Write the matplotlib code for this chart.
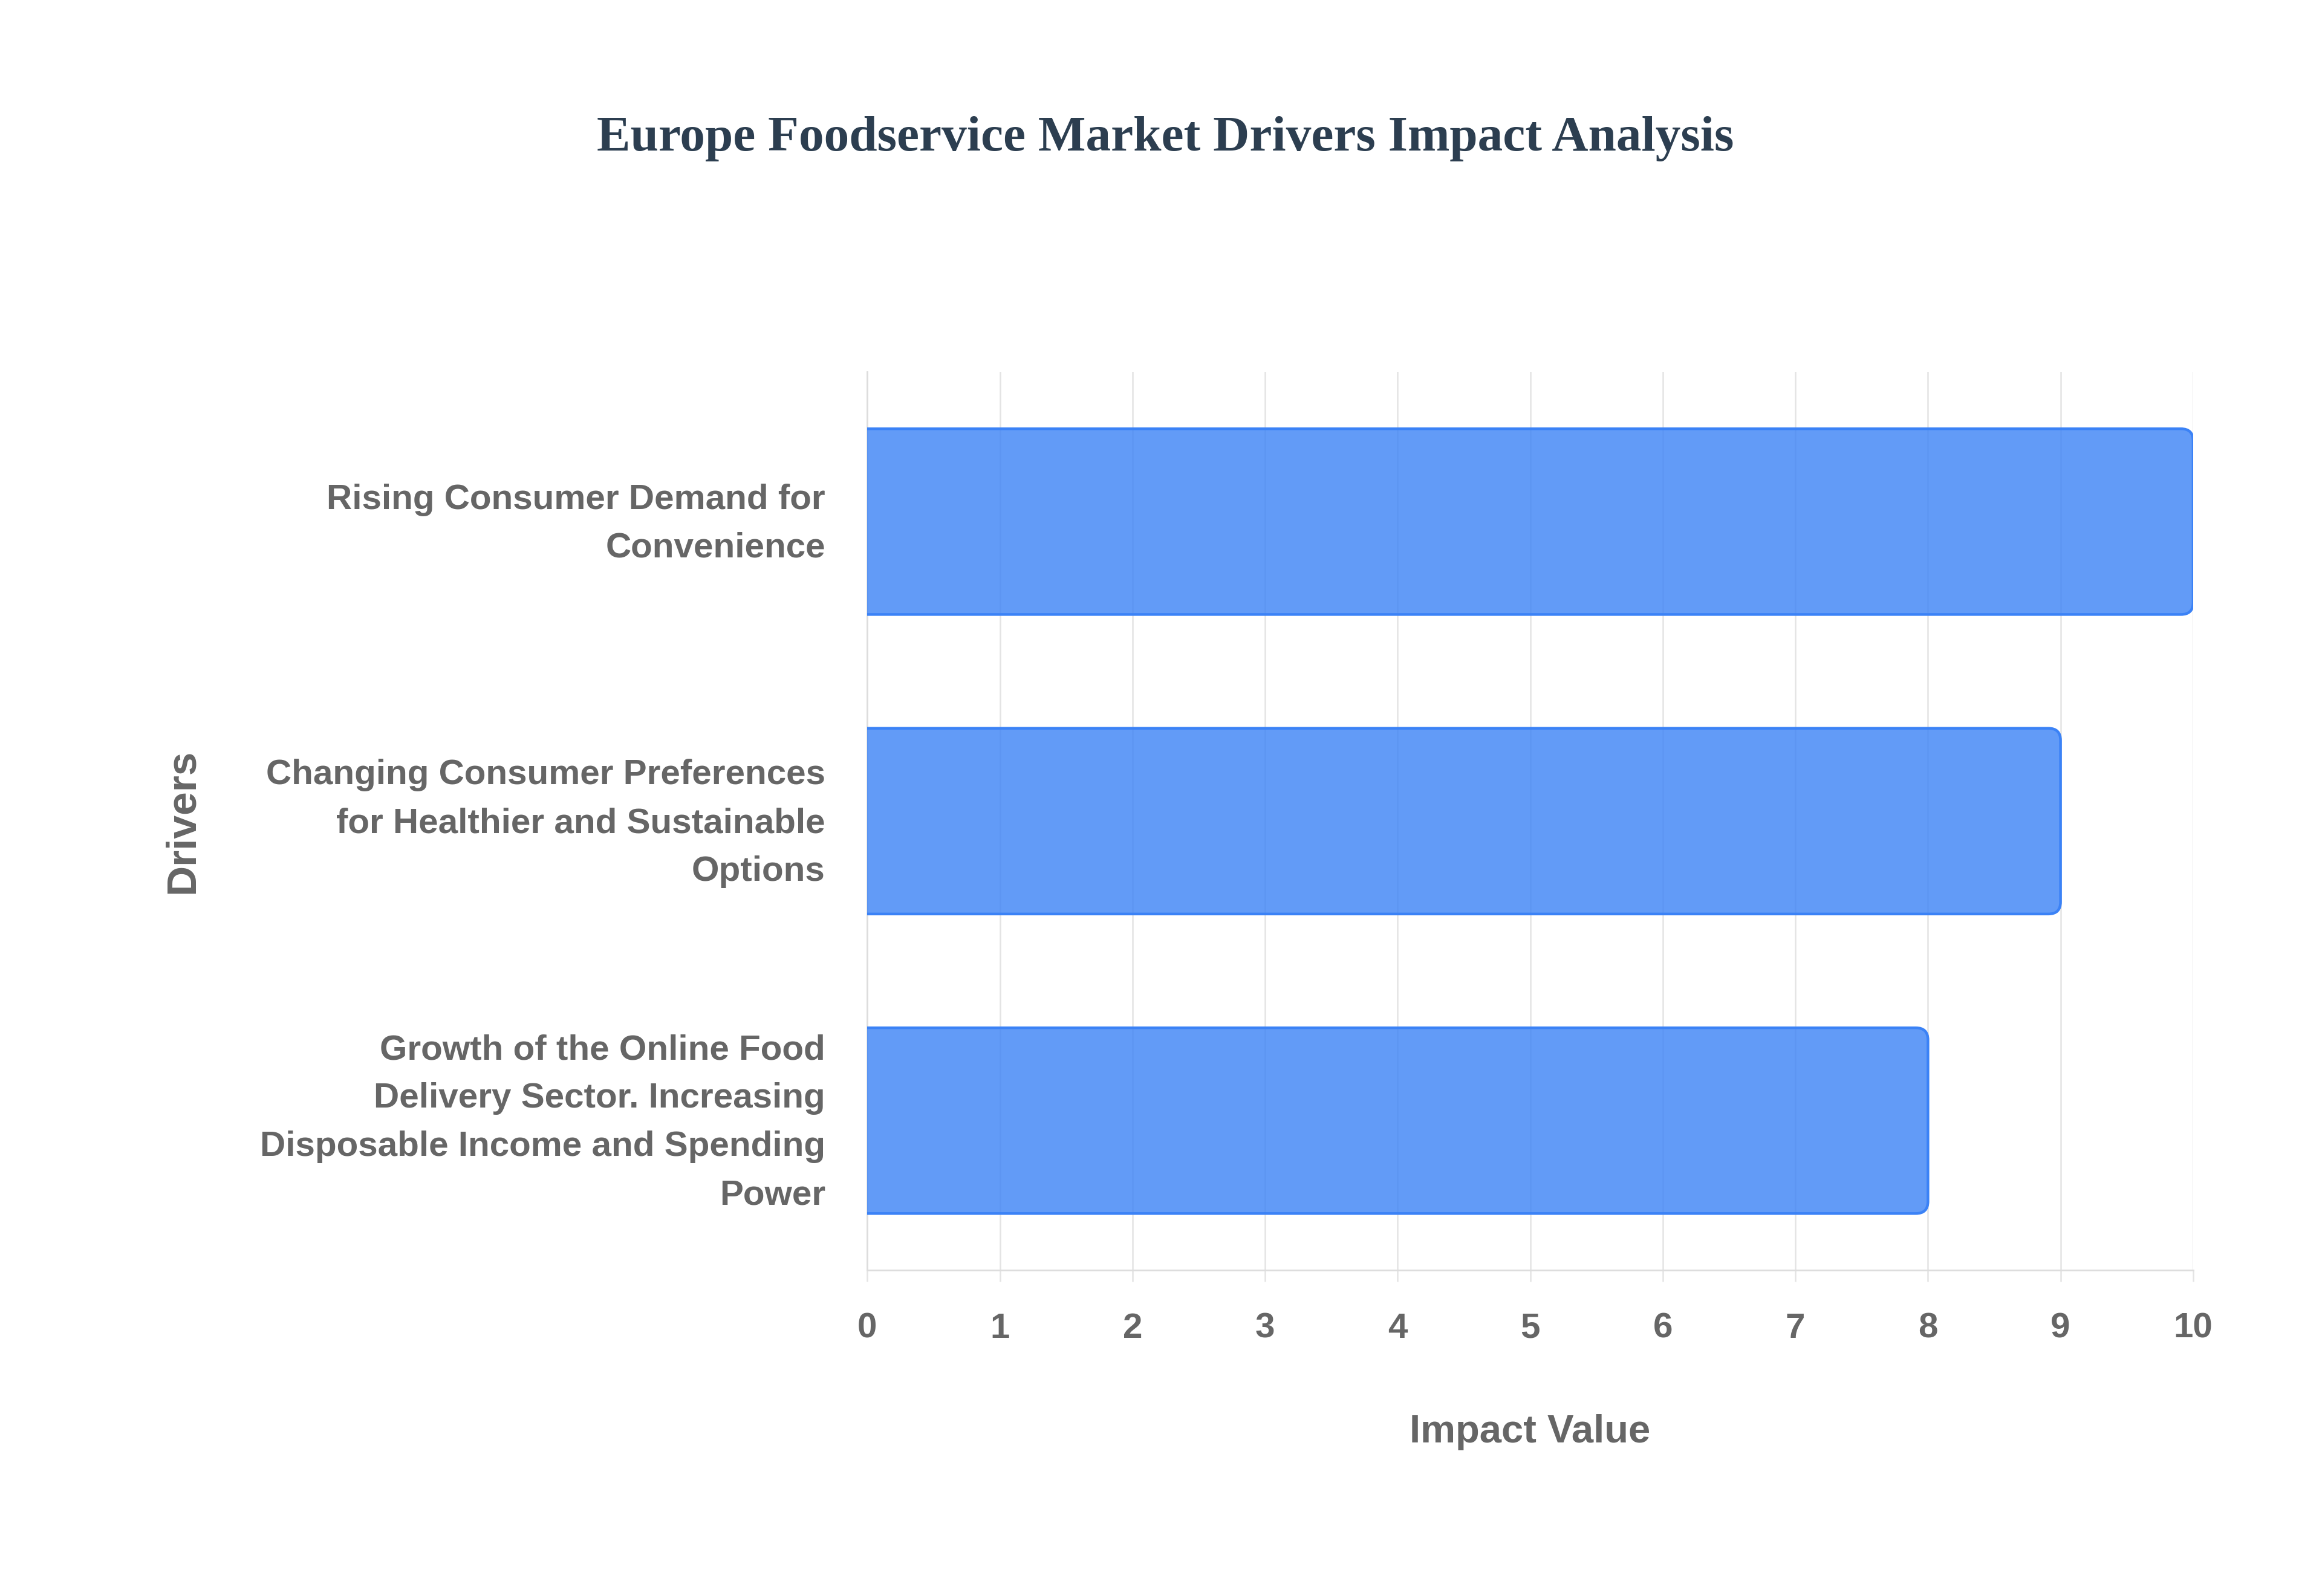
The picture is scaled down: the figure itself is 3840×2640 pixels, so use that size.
import matplotlib as mpl
mpl.use('Agg')
import matplotlib.pyplot as plt
import matplotlib.transforms as mtransforms
from matplotlib.patches import FancyBboxPatch

drivers = [
    "Rising Consumer Demand for\nConvenience",
    "Changing Consumer Preferences\nfor Healthier and Sustainable\nOptions",
    "Growth of the Online Food\nDelivery Sector. Increasing\nDisposable Income and Spending\nPower",
]
impact = [10, 9, 8]
ticks = list(range(0, 11))

fill_col = (59/255, 130/255, 246/255, 0.8)
edge_col = '#3b82f6'
text_col = '#666666'
grid_col = '#e4e4e4'

plt.rcParams['font.family'] = ['Liberation Sans', 'DejaVu Sans']

fig = plt.figure(figsize=(19.2, 13.2), dpi=200)
ax = fig.add_axes([0.3735, 0.204, 0.571, 0.563])

pos = list(range(len(drivers)))
bars = ax.barh(pos, impact, height=0.62, color='none', edgecolor='none')
ax.set_xlim(0, 10)
ax.set_ylim(len(drivers) - 0.5, -0.5)

# rounded right corners: radius in pixels -> data units
fig.canvas.draw()
px_x = ax.transData.transform((1, 0))[0] - ax.transData.transform((0, 0))[0]
px_y = abs(ax.transData.transform((0, 1))[1] - ax.transData.transform((0, 0))[1])
r_px = 20
r = r_px / px_x
aspect = px_x / px_y
for b in bars:
    x0, y0 = b.get_x(), b.get_y()
    w, h = b.get_width(), b.get_height()
    p = FancyBboxPatch((x0 - 2 * r, y0), w + 2 * r, h,
                       boxstyle=f"round,pad=0,rounding_size={r}",
                       mutation_aspect=aspect,
                       facecolor=fill_col, edgecolor=edge_col, linewidth=1.6,
                       zorder=3, clip_on=True)
    ax.add_patch(p)

ax.set_xticks(ticks)
ax.set_yticks(pos)
ax.set_yticklabels(drivers)
ax.grid(axis='x', color=grid_col, linewidth=0.9, zorder=0)
ax.set_axisbelow(True)

for s in ['top', 'right']:
    ax.spines[s].set_visible(False)
for s in ['left', 'bottom']:
    ax.spines[s].set_color('#dddddd')
    ax.spines[s].set_linewidth(1.0)

ax.tick_params(axis='x', length=7, width=0.9, color=grid_col, pad=18,
               labelsize=21, labelcolor=text_col)
ax.tick_params(axis='y', length=0, pad=25, labelsize=21, labelcolor=text_col)
for lab in ax.get_xticklabels() + ax.get_yticklabels():
    lab.set_fontweight('bold')
shift = mtransforms.ScaledTranslation(0, 5.5 / 72, fig.dpi_scale_trans)
for lab in ax.get_yticklabels():
    lab.set_linespacing(1.62)
    lab.set_transform(lab.get_transform() + shift)

ax.set_xlabel('Impact Value', fontsize=23.5, fontweight='bold', color=text_col)
ax.xaxis.set_label_coords(0.5, -0.16)
ax.set_ylabel('Drivers', fontsize=25, fontweight='bold', color=text_col)
ax.yaxis.set_label_coords(-0.502, 0.5)

fig.text(0.502, 0.913, 'Europe Foodservice Market Drivers Impact Analysis',
         ha='center', va='center', fontsize=30, fontweight='bold',
         color='#2c3e50', family=['Liberation Serif', 'DejaVu Serif'])

fig.savefig('out.png', dpi=200, facecolor='white')
